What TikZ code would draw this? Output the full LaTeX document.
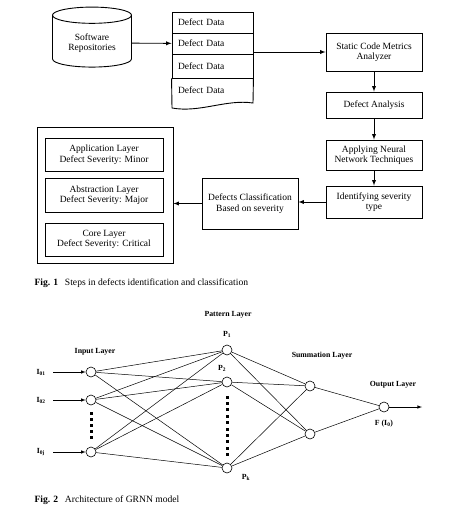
\documentclass[tikz,border=0pt]{standalone}
\usepackage{fontspec}
\setmainfont{Liberation Serif}
\usetikzlibrary{shapes.geometric, arrows.meta, positioning}

\begin{document}
\begin{tikzpicture}[x = 1pt, y = -1pt,
    box/.style = {draw, line width = 0.9pt, align = center, inner sep = 1pt, font = \fontsize{9.5}{10.5}\selectfont},
    datarow/.style = {draw, line width = 0.9pt, minimum width = 81pt, text width = 69pt, inner xsep = 6pt, align = left, font = \fontsize{9.5}{10.5}\selectfont},
    neuron/.style = {draw, circle, fill = white, minimum size = 10pt, inner sep = 0pt, line width = 0.6pt},
    layer/.style = {font = \bfseries\fontsize{7.8}{9}\selectfont},
    caption/.style = {anchor = west, font = \fontsize{9.6}{11}\selectfont},
    link/.style = {line width = 0.5pt}]
    \useasboundingbox (0,0) rectangle (474,515);
    % Fig. 1
    \node[cylinder, shape border rotate = 90, draw, line width = 0.9pt, aspect = 0.3, minimum width = 79pt, minimum height = 60pt, align = center, font = \fontsize{9.5}{10.5}\selectfont] (repo) at (92,43) {Software\\Repositories};
    % Dati difettosi
    \node[datarow, minimum height = 21pt] (dd1) at (212.5,22.5) {Defect Data};
    \node[datarow, minimum height = 21pt] (dd2) at (212.5,43.5) {Defect Data};
    \node[datarow, minimum height = 24pt] (dd3) at (212.5,66) {Defect Data};
    \node[datarow, draw = none] (dd4) at (212.5,90) {Defect Data};
    \draw[line width = 0.9pt] (dd3.south west) -- (172,108) .. controls (200,113) and (226,99) .. (253,103) -- (dd3.south east);
    % Passi
    \node[box, minimum width = 96pt, minimum height = 38pt] (static) at (374,52) {Static Code Metrics\\Analyzer};
    \node[box, minimum width = 96pt, minimum height = 26pt] (analysis) at (374,105) {Defect Analysis};
    \node[box, minimum width = 96pt, minimum height = 30pt] (neural) at (374,155) {Applying Neural\\Network Techniques};
    \node[box, minimum width = 96pt, minimum height = 32pt] (severity) at (374,202) {Identifying severity\\type};
    \node[box, minimum width = 96pt, minimum height = 51pt] (classif) at (250,203.5) {Defects Classification\\Based on severity};
    % Livelli
    \node[box, minimum width = 136pt, minimum height = 136pt] (layers) at (105,195) {};
    \node[box, minimum width = 118pt, minimum height = 33pt] (app) at (104,154.5) {Application Layer\\Defect Severity: Minor};
    \node[box, minimum width = 118pt, minimum height = 34pt] (abs) at (104,195) {Abstraction Layer\\Defect Severity: Major};
    \node[box, minimum width = 118pt, minimum height = 33pt] (core) at (104,239.5) {Core Layer\\Defect Severity: Critical};
    % Frecce
    \draw[-latex, line width = 0.9pt] (repo) -- (dd2);
    \draw[-latex, line width = 0.9pt] (static.west -| dd2.east) -- (static);
    \draw[-latex, line width = 0.9pt] (static) -- (analysis);
    \draw[-latex, line width = 0.9pt] (analysis) -- (neural);
    \draw[-latex, line width = 0.9pt] (neural) -- (severity);
    \draw[-latex, line width = 0.9pt] (severity) -- (classif.east |- severity);
    \draw[-latex, line width = 0.9pt] (classif.west) -- (layers.east |- classif.west);
    \node[caption] (cap1) at (31,283) {\textbf{Fig. 1}\hspace{0.7em}Steps in defects identification and classification};
    % Fig. 2
    \node[neuron] (i1) at (91,372) {};
    \node[neuron] (i2) at (91,400) {};
    \node[neuron] (i3) at (91,452) {};
    \node[neuron] (p1) at (227,350) {};
    \node[neuron] (p2) at (227,382) {};
    \node[neuron] (p3) at (227,468) {};
    \node[neuron] (s1) at (310,386) {};
    \node[neuron] (s2) at (310,434) {};
    \node[neuron] (o) at (384,407) {};
    \foreach \a in {i1, i2, i3}
        \foreach \b in {p1, p2, p3}
            \draw[link] (\a) -- (\b);
    \foreach \a in {p1, p2, p3}
        \foreach \b in {s1, s2}
            \draw[link] (\a) -- (\b);
    \draw[link] (s1) -- (o);
    \draw[link] (s2) -- (o);
    % Ingressi
    \node[layer] (l1) at (41,372) {I\textsubscript{01}};
    \node[layer] (l2) at (41,400) {I\textsubscript{02}};
    \node[layer] (l3) at (41,452) {I\textsubscript{0j}};
    \foreach \n in {1, 2, 3}
        \draw[-latex, line width = 0.6pt] (l\n) ++(12,0) -- (i\n);
    \coordinate (out) at (422,407);
    \draw[-latex, line width = 0.6pt] (o) -- (out);
    % Puntini
    \foreach \k in {0,...,4}
        \fill (89.5,411.5+6*\k) rectangle ++(3,3);
    \foreach \k in {0,...,9}
        \fill (225.5,395.5+6.4*\k) rectangle ++(3,3);
    % Etichette
    \node[layer] (inlab) at (95,352) {Input Layer};
    \node[layer] (patlab) at (228,315) {Pattern Layer};
    \node[layer] (plab1) at (227,334) {P\textsubscript{1}};
    \node[layer] (plab2) at (222,368) {P\textsubscript{2}};
    \node[layer] (plab3) at (246,477) {P\textsubscript{k}};
    \node[layer] (sumlab) at (322,356) {Summation Layer};
    \node[layer] (outlab) at (393,385) {Output Layer};
    \node[layer] (flab) at (384,424) {F (I\textsubscript{0})};
    \node[caption] (cap2) at (31,500) {\textbf{Fig. 2}\hspace{0.7em}Architecture of GRNN model};
\end{tikzpicture}
\end{document}
